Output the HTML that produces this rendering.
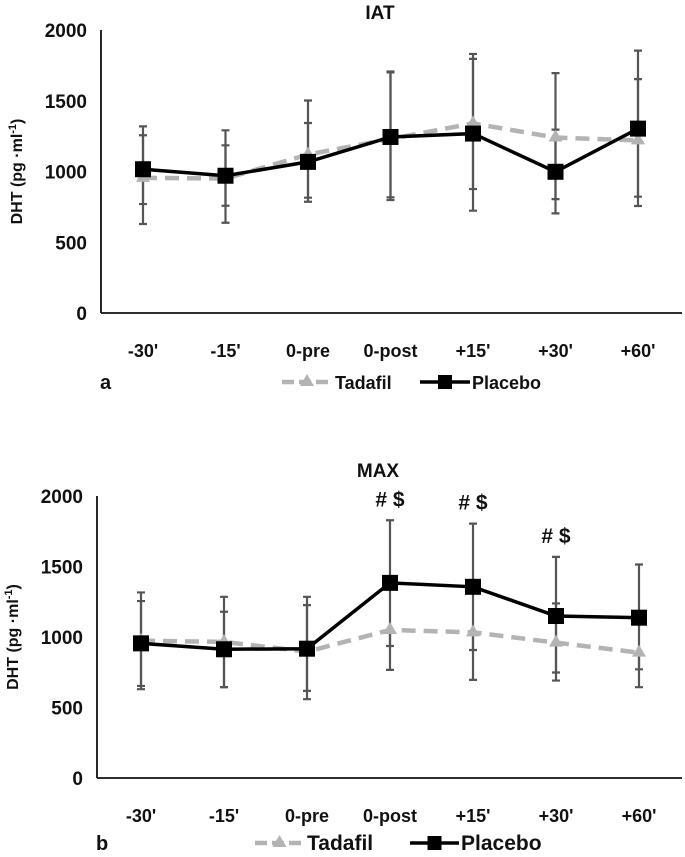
<!DOCTYPE html>
<html><head><meta charset="utf-8"><style>
html,body{margin:0;padding:0;background:#fff}
svg{display:block;font-family:"Liberation Sans",sans-serif;font-weight:bold}
</style></head><body>
<svg id="c" width="685" height="857" viewBox="0 0 685 857" xmlns="http://www.w3.org/2000/svg"></svg>
<script>
const categories = ["-30'","-15'","0-pre","0-post","+15'","+30'","+60'"];
const yTicks = [0,500,1000,1500,2000];
const iatPlacebo = [1016,970,1068,1244,1268,998,1303];
const iatPlaceboHi = [1319,1291,1502,1707,1831,1296,1854];
const iatPlaceboLo = [629,638,786,798,723,704,756];
const iatTadafil = [955,950,1120,1230,1340,1240,1220];
const iatTadafilHi = [1256,1185,1343,1700,1796,1695,1653];
const iatTadafilLo = [770,758,815,817,876,805,822];
const maxPlacebo = [955,913,917,1384,1356,1149,1137];
const maxPlaceboHi = [1316,1285,1285,1828,1804,1238,1514];
const maxPlaceboLo = [630,644,559,767,696,691,644];
const maxTadafil = [974,965,896,1050,1033,960,889];
const maxTadafilHi = [1255,1179,1226,1050,1033,1568,889];
const maxTadafilLo = [653,644,618,936,908,748,771];
const maxAnnot = ["","","","# $","# $","# $",""];
const annotValues = [0,0,0,1828,1804,1568,0];

const NS="http://www.w3.org/2000/svg";
const svg=document.getElementById('c');
function mk(tag,attrs,parent,text){const e=document.createElementNS(NS,tag);for(const k in attrs)e.setAttribute(k,attrs[k]);if(text!==undefined)e.textContent=text;(parent||svg).appendChild(e);return e;}

function chart(cfg){
  const g=mk('g',{});
  
  
  const y=v=>cfg.y0-(v/2000)*(cfg.y0-cfg.y2000);
  const x=i=>cfg.x0+i*cfg.dx;
  const t=mk('text',{x:cfg.titleX,y:cfg.titleY,'font-size':19,'text-anchor':'middle',fill:'#111'},g,cfg.title);
  
  
  const ya=mk('line',{x1:cfg.ax,y1:cfg.y2000,x2:cfg.ax,y2:cfg.y0,stroke:'#111','stroke-width':1.8},g);
  
  
  const xa=mk('line',{x1:cfg.ax,y1:cfg.y0,x2:682,y2:cfg.y0,stroke:'#111','stroke-width':1.8},g);
  
  
  yTicks.forEach(v=>{
    const e=mk('text',{x:cfg.ax-14,y:y(v)+7,'font-size':19,'text-anchor':'end',fill:'#111'},g,String(v));
    
    
  });
  categories.forEach((c,i)=>{
    const e=mk('text',{x:x(i),y:cfg.y0+44,'font-size':18,'text-anchor':'middle',fill:'#111'},g,c);
    
    
  });
  const yl=mk('text',{transform:`translate(${cfg.ylx},${(cfg.y0+cfg.y2000)/2}) rotate(-90)`,'font-size':16,'text-anchor':'middle',fill:'#111'},g);
  
  
  yl.innerHTML='DHT (pg ·ml<tspan dy="-6" font-size="11">-1</tspan><tspan dy="6">)</tspan>';
  function err(hi,lo,name){
    hi.forEach((h,i)=>{
      const l=lo[i];
      const e=mk('path',{d:`M${x(i)},${y(h)}V${y(l)}M${x(i)-4},${y(h)}h8M${x(i)-4},${y(l)}h8`,stroke:'#555','stroke-width':2.2,fill:'none'},g);
      
      
    });
  }
  err(cfg.tHi,cfg.tLo,'tadafil-error-bar');
  err(cfg.pHi,cfg.pLo,'placebo-error-bar');
  const tp=mk('polyline',{points:cfg.t.map((v,i)=>x(i)+','+y(v)).join(' '),fill:'none',stroke:'#b3b3b3','stroke-width':4.5,'stroke-dasharray':'14 8'},g);
  
  
  cfg.t.forEach((v,i)=>{
    const m=mk('path',{d:`M${x(i)},${y(v)-8}l7,12h-14z`,fill:'#b3b3b3'},g);
    
    
  });
  const pp=mk('polyline',{points:cfg.p.map((v,i)=>x(i)+','+y(v)).join(' '),fill:'none',stroke:'#000','stroke-width':3.5},g);
  
  
  cfg.p.forEach((v,i)=>{
    const m=mk('rect',{x:x(i)-8,y:y(v)-8,width:16,height:16,fill:'#000'},g);
    
    
  });
  if(cfg.annot){
    cfg.annot.forEach((a,i)=>{
      if(!a)return;
      const e=mk('text',{x:x(i),y:y(annotValues[i])-14,'font-size':21,'text-anchor':'middle',fill:'#111'},g,a);
      
      
    });
  }
  const L=cfg.leg;
  const lt=mk('g',{},g);
  
  
  mk('line',{x1:L.tx1,y1:L.y,x2:L.tx2,y2:L.y,stroke:'#b3b3b3','stroke-width':4.5,'stroke-dasharray':'12 5'},lt);
  mk('path',{d:`M${(L.tx1+L.tx2)/2},${L.y-8}l7,12h-14z`,fill:'#b3b3b3'},lt);
  mk('text',{x:L.tx2+3,y:L.y+7,'font-size':L.fs,fill:'#111'},lt,'Tadafil');
  const lp=mk('g',{},g);
  
  
  mk('line',{x1:L.px1,y1:L.y,x2:L.px2,y2:L.y,stroke:'#000','stroke-width':3.5},lp);
  mk('rect',{x:(L.px1+L.px2)/2-7,y:L.y-7,width:14,height:14,fill:'#000'},lp);
  mk('text',{x:L.px2+2,y:L.y+7,'font-size':L.fs,fill:'#111'},lp,'Placebo');
  const pl=mk('text',{x:cfg.labX,y:cfg.labY,'font-size':20,fill:'#111'},g,cfg.label);
  
  
}
chart({name:'iat-chart',title:'IAT',titleX:380,titleY:19,ax:101,y0:313,y2000:30,x0:143,dx:82.5,ylx:22,
  p:iatPlacebo,pHi:iatPlaceboHi,pLo:iatPlaceboLo,t:iatTadafil,tHi:iatTadafilHi,tLo:iatTadafilLo,
  leg:{y:382,tx1:282,tx2:332,px1:420,px2:470,fs:18},label:'a',labX:100,labY:389});
chart({name:'max-chart',title:'MAX',titleX:378,titleY:477,ax:97,y0:778,y2000:496,x0:141,dx:83,ylx:18,
  p:maxPlacebo,pHi:maxPlaceboHi,pLo:maxPlaceboLo,t:maxTadafil,tHi:maxTadafilHi,tLo:maxTadafilLo,annot:maxAnnot,
  leg:{y:843,tx1:255,tx2:304,px1:410,px2:459,fs:21},label:'b',labX:96,labY:850});
</script>
</body></html>
